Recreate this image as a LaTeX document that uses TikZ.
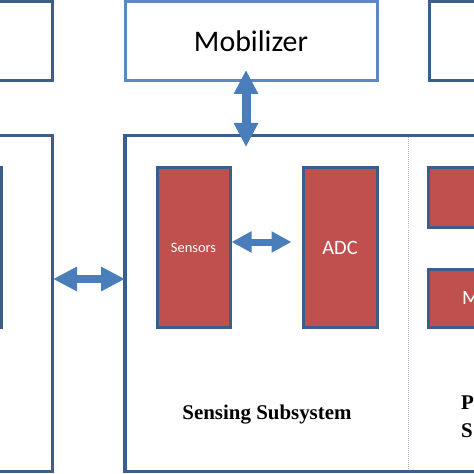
\documentclass[tikz,border=0pt]{standalone}
\usepackage{fontspec}
\setmainfont{Liberation Serif}
\newfontfamily\calib{Carlito}
\usetikzlibrary{arrows.meta}
\definecolor{navy}{HTML}{3B5E8C}
\definecolor{lightblue}{HTML}{5A89C4}
\definecolor{arrowblue}{HTML}{4A7EBB}
\definecolor{redfill}{HTML}{C0504D}
\definecolor{dotgray}{HTML}{A9B4C4}
\tikzset{
  outerbox/.style={draw=navy, line width=3bp, fill=white, rectangle, inner sep=0pt},
  mobbox/.style={draw=lightblue, line width=3bp, fill=white, rectangle, inner sep=0pt},
  redbox/.style={draw=navy, line width=3bp, fill=redfill, rectangle, inner sep=0pt, text=white},
  bigarrow/.style={draw=arrowblue, line width=9bp,
    {Triangle[length=24bp,width=23bp]}-{Triangle[length=24bp,width=23bp]}, shorten <=0bp, shorten >=0bp},
  smallarrow/.style={draw=arrowblue, line width=7bp,
    {Triangle[length=20bp,width=20bp]}-{Triangle[length=20bp,width=20bp]}},
}
\begin{document}
\begin{tikzpicture}[x=1bp,y=-1bp]
\useasboundingbox (0,0) rectangle (474,474);
\clip (0,0) rectangle (474,474);
% top row
\node[outerbox, minimum width=132bp, minimum height=78.5bp] (tl) at (-14,41) {};
\node[mobbox, minimum width=252bp, minimum height=78.5bp] (mob) at (251,41) {\calib\fontsize{30}{34}\selectfont Mobilizer};
\node[outerbox, minimum width=130bp, minimum height=78.5bp] (tr) at (494,41) {};
% lower big boxes
\node[outerbox, minimum width=152bp, minimum height=335bp] (left) at (-24,303.5) {};
\node[outerbox, minimum width=475bp, minimum height=335bp] (main) at (362.5,303.5) {};
% dotted divider
\coordinate (dtop) at (408,137.5);
\coordinate (dbot) at (408,469.5);
\draw[dotgray, line width=1bp, dash pattern=on 1bp off 1bp] (dtop) -- (dbot);
% red boxes
\node[redbox, minimum width=100bp, minimum height=159bp] (lred) at (-48.5,247.5) {};
\node[redbox, minimum width=73bp, minimum height=159bp] (sens) at (193.5,247.5) {\calib\fontsize{14.5}{17}\selectfont Sensors};
\node[redbox, minimum width=74bp, minimum height=159bp] (adc) at (340,247.5) {\calib\fontsize{20.5}{24}\selectfont ADC};
\node[redbox, minimum width=100bp, minimum height=59bp] (rup) at (478,197.5) {};
\node[redbox, minimum width=100bp, minimum height=58bp] (rlow) at (478,298) {};
\node[anchor=west, inner sep=0pt, text=white] (mtxt) at (462,298) {\calib\fontsize{20.5}{24}\selectfont M};
% labels
\node[inner sep=0pt] (senslab) at (267,415) {\fontsize{21}{25}\selectfont\bfseries Sensing Subsystem};
\node[anchor=west, inner sep=0pt] (plab) at (461,403) {\fontsize{21}{25}\selectfont\bfseries P};
\node[anchor=west, inner sep=0pt] (slab) at (461,431) {\fontsize{21}{25}\selectfont\bfseries S};
% arrows
\coordinate (va) at (246,70);
\coordinate (vb) at (246,147);
\draw[bigarrow] (va) -- (vb);
\coordinate (ha) at (53,279);
\coordinate (hb) at (125,279);
\draw[bigarrow, line width=8bp] (ha) -- (hb);
\draw[smallarrow] ([yshift=5.5bp]sens.east) -- ([xshift=-10bp,yshift=5.5bp]adc.west);
\end{tikzpicture}
\end{document}
